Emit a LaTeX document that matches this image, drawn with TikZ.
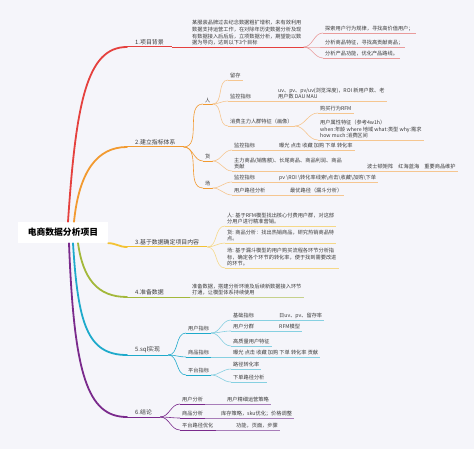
\documentclass[tikz,border=0pt]{standalone}
\usepackage{fontspec}
\setmainfont{Noto Sans CJK SC}
\definecolor{bg}{HTML}{F5F5FA}
\definecolor{txt}{HTML}{3A3A3A}
\definecolor{c1}{HTML}{E5413E}\definecolor{c1s}{HTML}{E99C9C}
\definecolor{c2}{HTML}{F29A30}\definecolor{c2s}{HTML}{F5C690}
\definecolor{c3}{HTML}{F3C233}\definecolor{c3s}{HTML}{F5D888}
\definecolor{c4}{HTML}{A3B83A}\definecolor{c4s}{HTML}{C6D18C}
\definecolor{c5}{HTML}{1EAACB}\definecolor{c5s}{HTML}{86D0E1}
\definecolor{c6}{HTML}{7A2A8C}\definecolor{c6s}{HTML}{A87DB9}
\tikzset{
  topic/.style={anchor=south west, inner xsep=2pt, inner ysep=1.4pt, text=txt, align=left,
    font=\fontsize{5.2}{6.8}\selectfont,
    append after command={(\tikzlastnode.south west) edge[draw=#1, line width=.6pt] (\tikzlastnode.south east)}},
  main/.style={anchor=south west, inner xsep=8pt, inner ysep=1.6pt, text=txt,
    font=\fontsize{5.9}{7}\selectfont,
    append after command={(\tikzlastnode.south west) edge[draw=#1, line width=1pt] (\tikzlastnode.south east)}},
  link/.style={draw=#1, line width=.6pt},
  trunk/.style={draw=#1, line width=1.8pt, line cap=round},
}
\begin{document}
\begin{tikzpicture}[x=1pt,y=-1pt]
\fill[bg] (0,0) rectangle (474,449);
\useasboundingbox (0,0) rectangle (474,449);

\node[fill=white, minimum width=90pt, minimum height=21pt, text=black,
  font=\fontsize{8.8}{10}\selectfont\bfseries] (root) at (63,232.5) {电商数据分析项目};

% 1 项目背景
\node[main=c1] (m1) at (127,47) {1.项目背景};
\node[topic=c1] (m1a) at (190,47) {某服装品牌过去纪念数据粗扩增积，未有效利用\\数据支持运营工作，在对除年历史数据分析及现\\有数据接入后后后，立项数据分析，期望能以数\\据为导向，达到以下3个目标};
\node[topic=c1s] (m1b1) at (323,33) {探索用户行为规律，寻找高价值用户；};
\node[topic=c1s] (m1b2) at (323,47) {分析商品特征，寻找高贡献商品；};
\node[topic=c1s] (m1b3) at (323,58) {分析产品功能，优化产品路线。};
\draw[trunk=c1] ([xshift=5pt]root.north) .. controls +(8,-120) and +(-40,0) .. (m1.south west);
\draw[link=c1] (m1.south east) -- (m1a.south west);
\foreach \n in {m1b1,m1b2,m1b3}
  \draw[link=c1s] (m1a.south east) to[out=0,in=180] (\n.south west);

% 2 建立指标体系
\node[main=c2] (m2) at (127,147) {2.建立指标体系};
\node[topic=c2] (ren) at (203,104) {人};
\node[topic=c2s] (ren1) at (228,80) {留存};
\node[topic=c2s] (ren2) at (228,101) {监控指标};
\node[topic=c2s] (ren2v) at (276,101) {uv、pv、pv/uv(浏览深度)，ROI 新用户数、老\\用户数 DAU MAU};
\node[topic=c2s] (ren3) at (228,126) {消费主力人群特征（画像）};
\node[topic=c2s] (ren3a) at (318,113) {购买行为RFM};
\node[topic=c2s] (ren3b) at (318,140) {用户属性特征（参考4w1h）\\when:年龄 where 地域 what:类型 why:需求\\how much:消费区间};
\node[topic=c2] (huo) at (203,161) {货};
\node[topic=c2s] (huo1) at (232,150) {监控指标};
\node[topic=c2s] (huo1v) at (277,150) {曝光 点击 收藏 加购 下单 转化率};
\node[topic=c2s] (huo2) at (232,171) {主力商品(销售额)、长尾商品、商品利润、商品\\贡献};
\node[topic=c2s] (huo2v) at (365,171) {波士顿矩阵\quad 红海蓝海\quad 重要商品维护};
\node[topic=c2] (chang) at (203,188) {场};
\node[topic=c2s] (chang1) at (232,182) {监控指标};
\node[topic=c2s] (chang1v) at (277,182) {pv \textbackslash ROI \textbackslash 转化率线索\textbackslash 点击\textbackslash 收藏\textbackslash 加购\textbackslash 下单};
\node[topic=c2s] (chang2) at (232,195) {用户路径分析};
\node[topic=c2s] (chang2v) at (288,195) {最优路径（漏斗分析）};
\draw[trunk=c2] ([xshift=11pt]root.north) .. controls +(5,-50) and +(-30,0) .. (m2.south west);
\foreach \n in {ren,huo,chang}
  \draw[link=c2] (m2.south east) to[out=0,in=180] (\n.south west);
\foreach \n in {ren1,ren2,ren3}
  \draw[link=c2s] (ren.south east) to[out=0,in=180] (\n.south west);
\foreach \n in {ren3a,ren3b}
  \draw[link=c2s] (ren3.south east) to[out=0,in=180] (\n.south west);
\foreach \n in {huo1,huo2}
  \draw[link=c2s] (huo.south east) to[out=0,in=180] (\n.south west);
\foreach \n in {chang1,chang2}
  \draw[link=c2s] (chang.south east) to[out=0,in=180] (\n.south west);
\draw[link=c2s] (ren2.south east) -- (ren2v.south west);
\draw[link=c2s] (huo1.south east) -- (huo1v.south west);
\draw[link=c2s] (huo2.south east) -- (huo2v.south west);
\draw[link=c2s] (chang1.south east) -- (chang1v.south west);
\draw[link=c2s] (chang2.south east) -- (chang2v.south west);

% 3 基于数据确定项目内容
\node[main=c3] (m3) at (127,247) {3.基于数据确定项目内容};
\node[topic=c3s] (m3a) at (225,226) {人: 基于RFM模型找出核心付费用户群，对这部\\分用户进行精准营销。};
\node[topic=c3s] (m3b) at (225,243) {货: 商品分析：找出热销商品，研究热销商品特\\点。};
\node[topic=c3s] (m3c) at (225,268) {场: 基于漏斗模型的用户购买流程各环节分析指\\标，确定各个环节的转化率，便于找到需要改进\\的环节。};
\draw[trunk=c3] (root.south east) .. controls +(8,0) and +(-8,0) .. (m3.south west);
\foreach \n in {m3a,m3b,m3c}
  \draw[link=c3s] (m3.south east) to[out=0,in=180] (\n.south west);

% 4 准备数据
\node[main=c4] (m4) at (127,297) {4.准备数据};
\node[topic=c4s] (m4a) at (190,297) {准备数据，搭建分析环境及后续新数据接入环节\\打通，让模型体系持续使用};
\draw[trunk=c4] ([xshift=15pt]root.south) .. controls +(5,35) and +(-30,0) .. (m4.south west);
\draw[link=c4] (m4.south east) -- (m4a.south west);

% 5 sql实现
\node[main=c5] (m5) at (127,355) {5.sql实现};
\node[topic=c5] (yh) at (186,333) {用户指标};
\node[topic=c5s] (yh1) at (231,320) {基础指标};
\node[topic=c5s] (yh1v) at (277,320) {日uv、pv、留存率};
\node[topic=c5s] (yh2) at (231,331) {用户分群};
\node[topic=c5s] (yh2v) at (277,331) {RFM模型};
\node[topic=c5s] (yh3) at (231,346) {高质量用户特征};
\node[topic=c5] (sp) at (186,357) {商品指标};
\node[topic=c5s] (spv) at (231,357) {曝光 点击 收藏 加购 下单 转化率 贡献};
\node[topic=c5] (pt) at (186,375) {平台指标};
\node[topic=c5s] (pt1) at (231,369) {路径转化率};
\node[topic=c5s] (pt2) at (231,382) {下单路径分析};
\draw[trunk=c5] ([xshift=10pt]root.south) .. controls +(5,80) and +(-40,0) .. (m5.south west);
\foreach \n in {yh,sp,pt}
  \draw[link=c5] (m5.south east) to[out=0,in=180] (\n.south west);
\foreach \n in {yh1,yh2,yh3}
  \draw[link=c5s] (yh.south east) to[out=0,in=180] (\n.south west);
\foreach \n in {pt1,pt2}
  \draw[link=c5s] (pt.south east) to[out=0,in=180] (\n.south west);
\draw[link=c5s] (yh1.south east) -- (yh1v.south west);
\draw[link=c5s] (yh2.south east) -- (yh2v.south west);
\draw[link=c5s] (sp.south east) -- (spv.south west);

% 6 结论
\node[main=c6] (m6) at (127,417) {6.结论};
\node[topic=c6] (jl1) at (180,404) {用户分析};
\node[topic=c6s] (jl1v) at (225,404) {用户精细运营策略};
\node[topic=c6] (jl2) at (180,418) {商品分析};
\node[topic=c6s] (jl2v) at (219,418) {库存策略，sku优化；价格调整};
\node[topic=c6] (jl3) at (180,430) {平台路径优化};
\node[topic=c6s] (jl3v) at (234,430) {功能，页面，步骤};
\draw[trunk=c6] ([xshift=6pt]root.south) .. controls +(5,130) and +(-40,0) .. (m6.south west);
\foreach \n in {jl1,jl2,jl3}
  \draw[link=c6] (m6.south east) to[out=0,in=180] (\n.south west);
\draw[link=c6s] (jl1.south east) -- (jl1v.south west);
\draw[link=c6s] (jl2.south east) -- (jl2v.south west);
\draw[link=c6s] (jl3.south east) -- (jl3v.south west);
\end{tikzpicture}
\end{document}
